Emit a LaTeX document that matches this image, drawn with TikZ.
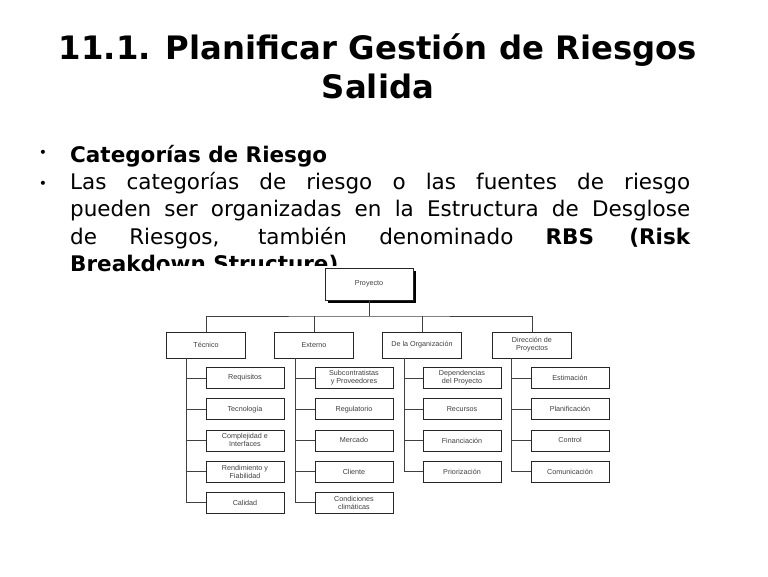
\documentclass[tikz,border=0pt]{standalone}
\usepackage{fontspec}
\setmainfont{DejaVu Sans}
\newfontfamily\dfont{Liberation Sans}
\begin{document}
\begin{tikzpicture}[x=1pt,y=-1pt,
  box/.style={draw=black!85,line width=0.8pt,fill=white,inner sep=0pt,align=center,font=\dfont\fontsize{7.2}{8}\selectfont,text=black!75},
  lbox/.style={box,minimum width=79pt,minimum height=26pt},
  cbox/.style={box,minimum width=78pt,minimum height=21pt},
  ln/.style={draw=black!75,line width=0.8pt}]
\useasboundingbox (0,0) rectangle (768,576);
\node[font=\bfseries\fontsize{32.3}{39}\selectfont,align=center] (title) at (378,66) {11.1. Planificar Gestión de Riesgos\\Salida};
\node[anchor=base west,inner sep=0pt,font=\fontsize{21.5}{27.3}\selectfont] (b1) at (70,162) {\textbf{Categorías de Riesgo}};
\node[anchor=north west,inner sep=0pt,font=\fontsize{21.5}{27.3}\selectfont,text width=620pt,align=justify] (b2) at (70,172) {Las categorías de riesgo o las fuentes de riesgo\linebreak pueden ser organizadas en la Estructura de Desglose\linebreak de Riesgos, también denominado \textbf{RBS (Risk\linebreak Breakdown Structure)}};
\node[font=\fontsize{14}{14}\selectfont] (d1) at (43,154) {•};
\node[font=\fontsize{14}{14}\selectfont] (d2) at (43,185) {•};
\fill[white] (160,266) rectangle (620,525);
% root
\fill[black] (328,271) rectangle (416,303);
\node[box,minimum width=88pt,minimum height=32pt] (p) at (369,284) {Proyecto};
\node[lbox] (t) at (206,345) {Técnico};
\node[lbox] (e) at (314,345) {Externo};
\node[lbox] (o) at (422,345) {De la Organización};
\node[lbox] (d) at (532,345) {Dirección de\\Proyectos};
\coordinate (bus) at (369,316);
\draw[ln] (p.south) -- (bus);
\draw[ln] (t.north) |- (bus) -| (d.north);
\draw[ln] (e.north) -- (e.north|-bus);
\draw[ln] (o.north) -- (o.north|-bus);
% children
\foreach \n/\sx/\cx/\list in {
  t/186/245/{Requisitos,Tecnología,Complejidad e\\Interfaces,Rendimiento y\\Fiabilidad,Calidad},
  e/295/354/{Subcontratistas\\y Proveedores,Regulatorio,Mercado,Cliente,Condiciones\\climáticas},
  o/404/462/{Dependencias\\del Proyecto,Recursos,Financiación,Priorización},
  d/511/570/{Estimación,Planificación,Control,Comunicación}}{
  \foreach \lab [count=\i] in \list {
    \pgfmathsetmacro{\yy}{378+31.2*(\i-1)}
    \node[cbox] (\n\i) at (\cx,\yy) {\lab};
    \draw[ln] (\n\i.west) -- (\sx,\yy);
    \xdef\last{\yy}
  }
  \draw[ln] (\sx,358) -- (\sx,\last);
}
\end{tikzpicture}
\end{document}
